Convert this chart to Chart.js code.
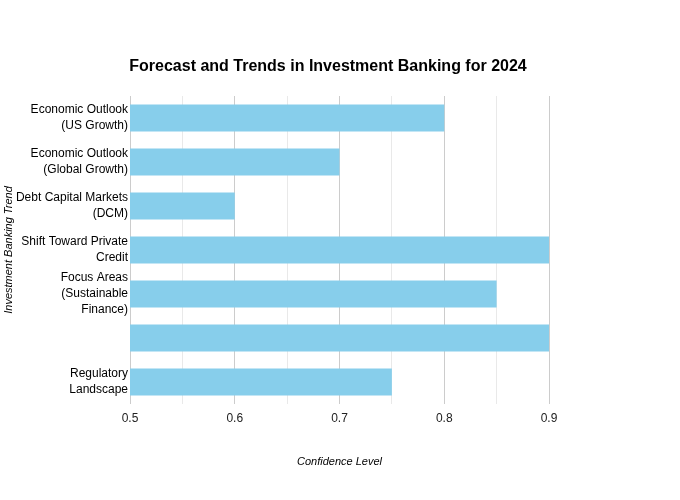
<!DOCTYPE html>
<html>
<head>
<meta charset="utf-8">
<script src="https://cdn.jsdelivr.net/npm/chart.js@4"></script>
<style>
  html, body { margin: 0; padding: 0; background: #fff; }
  #wrap { width: 680px; height: 500px; }
</style>
</head>
<body>
<div id="wrap"><canvas id="c" width="680" height="500"></canvas></div>
<script>
const categories = [
  ["Economic Outlook", "(US Growth)"],
  ["Economic Outlook", "(Global Growth)"],
  ["Debt Capital Markets", "(DCM)"],
  ["Shift Toward Private", "Credit"],
  ["Focus Areas", "(Sustainable", "Finance)"],
  "",
  ["Regulatory", "Landscape"]
];
const confidence = [0.8, 0.7, 0.6, 0.9, 0.85, 0.9, 0.75];
const xMin = 0.5, xMax = 0.9, xStep = 0.05;
const titleText = "Forecast and Trends in Investment Banking for 2024";
const xTitle = "Confidence Level";
const yTitle = "Investment Banking Trend";

const FONT = "'Liberation Sans', Arial, Helvetica, sans-serif";
function isMajor(v) { return Math.round(v * 100) % 10 === 0; }

const titlePlugin = {
  id: 'customTitle',
  afterDraw(chart) {
    const ctx = chart.ctx;
    ctx.save();
    ctx.font = "bold 16px " + FONT;
    ctx.fillStyle = '#000';
    ctx.textAlign = 'center';
    ctx.textBaseline = 'middle';
    ctx.fillText(titleText, 328, 67);
    ctx.restore();
  }
};

new Chart(document.getElementById('c'), {
  type: 'bar',
  data: {
    labels: categories,
    datasets: [{
      data: confidence,
      backgroundColor: '#87CEEB',
      borderWidth: 0,
      categoryPercentage: 1,
      barPercentage: 0.61
    }]
  },
  plugins: [titlePlugin],
  options: {
    indexAxis: 'y',
    responsive: false,
    animation: false,
    layout: { padding: { left: 0, right: 131, top: 96, bottom: 0 } },
    plugins: {
      legend: { display: false },
      tooltip: { enabled: false },
      title: { display: false }
    },
    scales: {
      x: {
        type: 'linear',
        min: xMin,
        max: xMax,
        afterFit: (s) => { s.height = 96; },
        ticks: {
          stepSize: xStep,
          padding: 7,
          color: '#222',
          font: { family: FONT, size: 12 },
          maxRotation: 0,
          autoSkip: false,
          callback: (v) => isMajor(v) ? (Math.round(v * 10) / 10).toFixed(1) : ''
        },
        grid: {
          drawTicks: false,
          color: (ctx) => isMajor(ctx.tick ? ctx.tick.value : 0) ? '#cccccc' : '#e9e9e9',
          lineWidth: 1
        },
        border: { display: false },
        title: {
          display: true,
          text: xTitle,
          color: '#000',
          font: { family: FONT, size: 11, style: 'italic' },
          padding: { top: 4, bottom: 31 }
        }
      },
      y: {
        afterFit: (s) => { s.width = 130; },
        ticks: {
          padding: 2,
          color: '#000',
          font: { family: FONT, size: 12, lineHeight: 1.33 },
          autoSkip: false
        },
        grid: { display: false, drawTicks: false },
        border: { display: false },
        title: {
          display: true,
          text: yTitle,
          color: '#000',
          font: { family: FONT, size: 11, style: 'italic' },
          padding: { top: 2, bottom: 2 }
        }
      }
    }
  }
});
</script>
</body>
</html>
